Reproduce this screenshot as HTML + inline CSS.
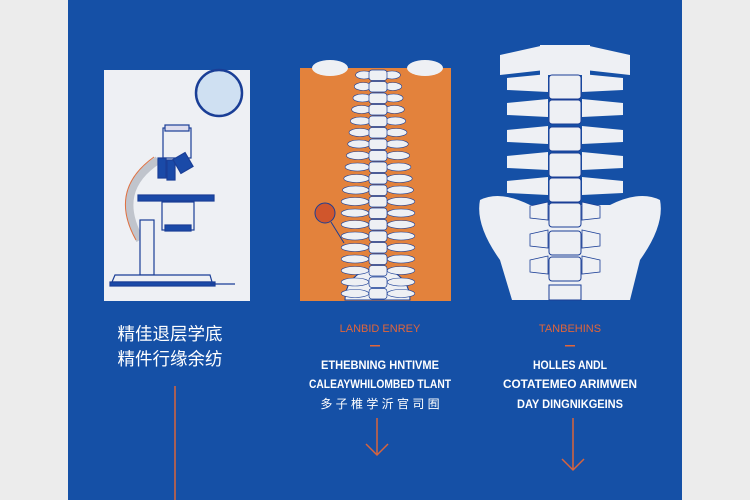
<!DOCTYPE html>
<html><head><meta charset="utf-8"><style>
body{margin:0;width:750px;height:500px;background:#eeeeee;overflow:hidden}
svg{display:block}
</style></head><body>
<svg id="s" width="750" height="500" viewBox="0 0 750 500" xmlns="http://www.w3.org/2000/svg">
<rect x="0" y="0" width="750" height="500" fill="#ececec"/>
<rect x="68" y="0" width="614" height="500" fill="#1550a6"/>
<!-- left panel -->
<rect x="104" y="70" width="146" height="231" fill="#eef0f4"/>
<circle cx="219" cy="93" r="23" fill="#cfe0f2" stroke="#1a3e96" stroke-width="2.5"/>
<g stroke="#1a3e96" stroke-width="1.2">
<path d="M158 160 Q112 190 140 240" fill="none" stroke="#c0c4cc" stroke-width="8"/>
<path d="M154 157 Q108 190 136 240" fill="none" stroke="#e07040" stroke-width="1"/>
<rect x="163" y="128" width="28" height="30" fill="#eef0f4"/>
<rect x="165" y="125" width="24" height="6" fill="#dde"/>
<rect x="158" y="158" width="8" height="20" fill="#1a4aa8"/>
<rect x="167" y="160" width="8" height="20" fill="#1a4aa8"/>
<rect x="176" y="155" width="14" height="16" fill="#1a4aa8" transform="rotate(-30 183 163)"/>
<rect x="138" y="195" width="76" height="6" fill="#1a4aa8"/>
<rect x="162" y="202" width="32" height="28" fill="#eef0f4"/>
<rect x="165" y="225" width="26" height="6" fill="#1a4aa8"/>
<rect x="140" y="220" width="14" height="55" fill="#eef0f4"/>
<path d="M115 275 L210 275 L212 282 L112 282 Z" fill="#eef0f4"/>
<rect x="110" y="282" width="105" height="4" fill="#1a4aa8"/>
<line x1="210" y1="284" x2="235" y2="284"/>
</g>
<!-- orange panel -->
<rect x="300" y="68" width="151" height="233" fill="#e3823c"/>
<g id="orsp"></g>
<circle cx="325" cy="213" r="10" fill="#d0562c" stroke="#1a3e96" stroke-width="1"/>
<line x1="331" y1="222" x2="344" y2="243" stroke="#1a3e96" stroke-width="1"/>
<!-- right spine -->
<g id="rsp"></g>
<!-- text -->
<g font-family="'Liberation Sans','Noto Sans CJK SC',sans-serif" fill="#fff" text-anchor="middle">
<text x="170" y="340" font-size="17.5">精佳退层学底</text>
<text x="170" y="365" font-size="17.5">精件行缘余纺</text>
<text x="380" y="332" font-size="11" fill="#e0653a">LANBID ENREY</text>
<rect x="370" y="345" width="10" height="1.5" fill="#e0653a"/>
<text x="380" y="369" font-size="12" font-weight="bold" textLength="118" lengthAdjust="spacingAndGlyphs">ETHEBNING HNTIVME</text>
<text x="380" y="388" font-size="12" font-weight="bold" textLength="142" lengthAdjust="spacingAndGlyphs">CALEAYWHILOMBED TLANT</text>
<text x="380" y="408" font-size="12">多 子 椎 学 沂 官 司 囿</text>
<text x="570" y="332" font-size="11" fill="#e0653a">TANBEHINS</text>
<rect x="565" y="345" width="10" height="1.5" fill="#e0653a"/>
<text x="570" y="369" font-size="12" font-weight="bold" textLength="74" lengthAdjust="spacingAndGlyphs">HOLLES ANDL</text>
<text x="570" y="388" font-size="12" font-weight="bold" textLength="134" lengthAdjust="spacingAndGlyphs">COTATEMEO ARIMWEN</text>
<text x="570" y="408" font-size="12" font-weight="bold" textLength="106" lengthAdjust="spacingAndGlyphs">DAY DINGNIKGEINS</text>
</g>
<g stroke="#d8643c" stroke-width="1.5" fill="none">
<line x1="175" y1="386" x2="175" y2="500"/>
<line x1="377" y1="418" x2="377" y2="455"/>
<polyline points="366,444 377,455 388,444"/>
<line x1="573" y1="418" x2="573" y2="470"/>
<polyline points="562,459 573,470 584,459"/>
</g>
</svg>
<script>
var NS="http://www.w3.org/2000/svg";
function el(p,t,a){var e=document.createElementNS(NS,t);for(var k in a)e.setAttribute(k,a[k]);p.appendChild(e);return e;}
var o=document.getElementById("orsp");
el(o,"ellipse",{cx:330,cy:68,rx:18,ry:8,fill:"#eef0f4"});
el(o,"ellipse",{cx:425,cy:68,rx:18,ry:8,fill:"#eef0f4"});
el(o,"path",{d:"M345 300 Q345 280 365 270 L390 270 Q410 280 410 300 Z",fill:"#eef0f4",stroke:"#1a3e96","stroke-width":1});
for(var y=70;y<300;y+=11.5){
 var w=14+Math.min(9,(y-70)/14);
 el(o,"ellipse",{cx:378-w,cy:y+5,rx:w*0.6,ry:4,fill:"#eef0f4",stroke:"#1a3e96","stroke-width":0.6});
 el(o,"ellipse",{cx:378+w,cy:y+5,rx:w*0.6,ry:4,fill:"#eef0f4",stroke:"#1a3e96","stroke-width":0.6});
 el(o,"rect",{x:369,y:y,width:18,height:10.5,rx:3,fill:"#eef0f4",stroke:"#1a3e96","stroke-width":0.7});
}
var r=document.getElementById("rsp");
var F="#eef0f4",S="#1a3e96";
el(r,"path",{d:"M480 200 Q475 225 500 260 L512 300 L630 300 L640 260 Q665 225 660 200 Q640 190 610 205 L530 205 Q500 190 480 200 Z",fill:F});
el(r,"rect",{x:540,y:45,width:50,height:30,fill:F});
var ys=[80,105,132,158,183,208,236,262];
el(r,"path",{d:"M500 55 L545 45 L545 70 L500 75 Z",fill:F});
el(r,"path",{d:"M630 55 L585 45 L585 70 L630 75 Z",fill:F});
for(var i=0;i<ys.length;i++){
 var y=ys[i],pw=i<5?58:35;
 el(r,"path",{d:"M"+(565-pw)+" "+(y-2)+" L548 "+(y-6)+" L548 "+(y+12)+" L"+(565-pw)+" "+(y+10)+" Z",fill:F,stroke:i>4?S:"none","stroke-width":0.8});
 el(r,"path",{d:"M"+(565+pw)+" "+(y-2)+" L582 "+(y-6)+" L582 "+(y+12)+" L"+(565+pw)+" "+(y+10)+" Z",fill:F,stroke:i>4?S:"none","stroke-width":0.8});
 el(r,"rect",{x:549,y:y-5,width:32,height:24,rx:3,fill:F,stroke:S,"stroke-width":1});
}
el(r,"rect",{x:549,y:285,width:32,height:15,fill:F,stroke:S,"stroke-width":1});
</script>
</body></html>
